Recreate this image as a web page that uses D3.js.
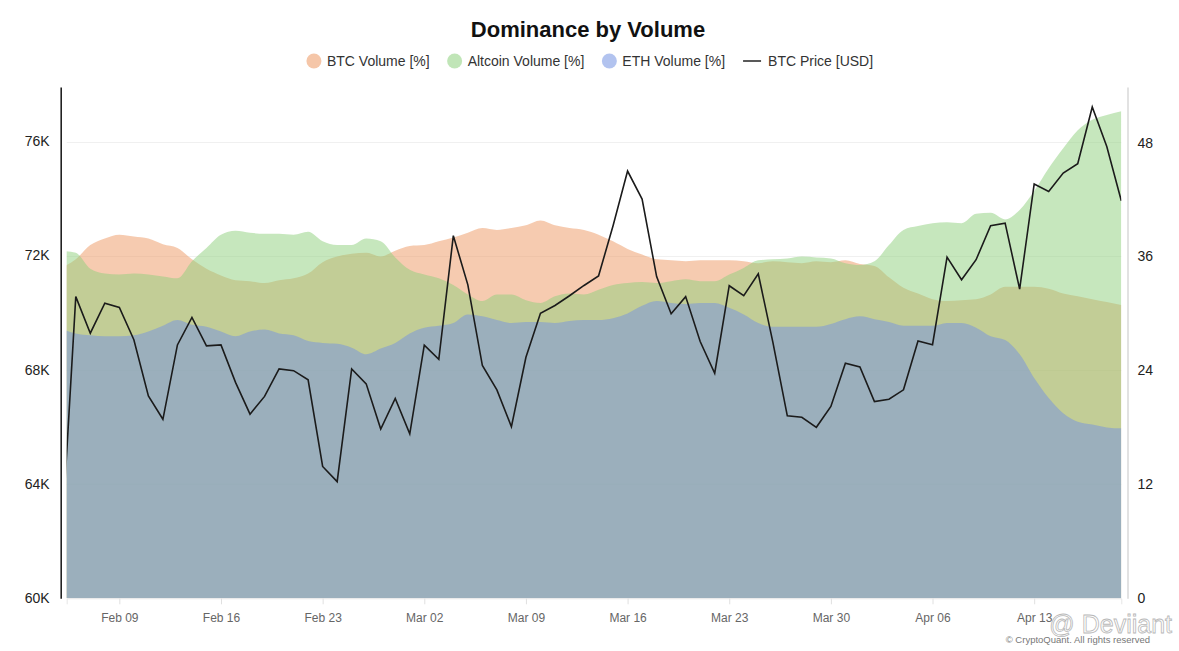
<!DOCTYPE html>
<html>
<head>
<meta charset="utf-8">
<script src="https://cdn.jsdelivr.net/npm/d3@7"></script>
<style>
  html, body { margin: 0; padding: 0; background: #fff; }
  svg { display: block; font-family: "Liberation Sans", Arial, sans-serif; }
</style>
</head>
<body>
<svg id="chart" width="1179" height="651"></svg>
<script>
// daily points, Feb 05 .. Apr 19
var startDay = "2025-02-05",
    endDay = "2025-04-20";

var btcPrice = [
    61800, 70550, 69270, 70320, 70170, 69040, 67080, 66260, 68860, 69820,
    68830, 68860, 67550, 66440, 67060, 68020, 67960, 67640, 64610, 64080,
    68020, 67500, 65920, 66990, 65750, 68850, 68360, 72680, 70960, 68140,
    67290, 66000, 68430, 69970, 70240, 70580, 70940, 71270, 73030, 74940,
    73960, 71250, 69950, 70550, 68980, 67870, 70930, 70580, 71350, 68970,
    66380, 66330, 65980, 66710, 68220, 68090, 66880, 66960, 67290, 69000,
    68870, 71930, 71140, 71840, 73030, 73120, 70810, 74490, 74230, 74870,
    75200, 77180, 75800, 73900
];

var btcVolume = [
    34.8, 35.7, 37.2, 37.9, 38.3, 38.1, 37.9, 37.3, 36.9, 35.7,
    34.7, 34.0, 33.5, 33.4, 33.2, 33.5, 33.7, 34.2, 35.4, 36.0,
    36.3, 36.4, 36.0, 36.6, 37.1, 37.2, 37.6, 38.0, 38.5, 39.0,
    38.8, 39.0, 39.3, 39.8, 39.3, 39.0, 38.8, 38.3, 37.6, 36.8,
    36.2, 35.7, 35.6, 35.5, 35.6, 35.6, 35.6, 35.5, 35.3, 35.5,
    35.4, 35.3, 35.5, 35.4, 35.6, 35.2, 35.0, 33.8, 32.7, 32.1,
    31.5, 31.3, 31.4, 31.5, 32.0, 32.8, 32.8, 32.8, 32.6, 32.1,
    31.8, 31.5, 31.2, 30.9
];

var altVolume = [
    36.6, 36.4, 34.7, 34.2, 34.1, 34.2, 34.1, 33.9, 33.7, 35.5,
    36.9, 38.3, 38.7, 38.5, 38.4, 38.4, 38.3, 38.6, 37.6, 37.2,
    37.2, 37.9, 37.6, 35.9, 34.6, 34.1, 33.7, 33.0, 32.0, 31.3,
    32.0, 32.0, 31.4, 31.1, 31.8, 32.1, 32.0, 32.5, 33.0, 33.2,
    33.3, 33.2, 33.4, 33.6, 33.4, 33.4, 34.1, 34.8, 35.6, 35.7,
    35.8, 36.0, 35.9, 35.8, 35.3, 35.1, 35.5, 37.2, 38.8, 39.2,
    39.5, 39.6, 39.5, 40.5, 40.6, 39.9, 40.9, 42.9, 45.3, 47.4,
    49.3, 50.4, 50.9, 51.3
];

var ethVolume = [
    28.4, 27.9, 27.7, 27.6, 27.6, 27.7, 28.1, 28.7, 29.3, 28.8,
    28.6, 28.1, 27.6, 28.1, 28.3, 27.9, 27.7, 27.1, 26.9, 26.8,
    26.4, 25.7, 26.3, 26.9, 27.9, 28.5, 28.7, 29.0, 29.9, 29.7,
    29.3, 29.0, 29.1, 29.1, 29.0, 29.2, 29.3, 29.3, 29.5, 30.0,
    30.8, 31.3, 31.1, 31.0, 31.1, 31.1, 30.6, 29.9, 29.0, 28.6,
    28.6, 28.6, 28.6, 28.9, 29.4, 29.7, 29.4, 29.1, 28.7, 28.7,
    28.7, 29.0, 29.0, 28.5, 27.6, 27.2, 25.7, 23.2, 21.1, 19.5,
    18.6, 18.3, 18.0, 17.9
];

var priceTicks = [60000, 64000, 68000, 72000, 76000],
    volumeTicks = [0, 12, 24, 36, 48];

var series = [
    {name: "BTC Volume [%]", values: btcVolume, color: "#ed9761"},
    {name: "Altcoin Volume [%]", values: altVolume, color: "#8dcf7b"},
    {name: "ETH Volume [%]", values: ethVolume, color: "#7391e1"}
];

var svg = d3.select("#chart"),
    plotLeft = 66.7, plotRight = 1121.3, plotTop = 87, plotBottom = 598.3;

var days = d3.utcDay.range(new Date(startDay), new Date(endDay));

var x = d3.scaleUtc()
    .domain([new Date(Date.UTC(2025, 1, 5, 9)), new Date(Date.UTC(2025, 3, 19))])
    .range([plotLeft, plotRight]);
var yPrice = d3.scaleLinear().domain([60000, 77880]).range([plotBottom, plotTop]);
var yVol = d3.scaleLinear().domain([0, 53.85]).range([plotBottom, plotTop]);

svg.append("defs").append("clipPath").attr("id", "plot")
    .append("rect")
    .attr("x", plotLeft).attr("y", plotTop - 5)
    .attr("width", plotRight - plotLeft).attr("height", plotBottom - plotTop + 5);

/*
 * faint grid lines under the areas
 */
svg.append("g").selectAll("line")
    .data(volumeTicks.slice(1))
    .join("line")
    .attr("x1", plotLeft).attr("x2", plotRight)
    .attr("y1", function(d) { return yVol(d); })
    .attr("y2", function(d) { return yVol(d); })
    .attr("stroke", "#f0f0f0");

var plot = svg.append("g").attr("clip-path", "url(#plot)");

var area = d3.area()
    .curve(d3.curveMonotoneX)
    .x(function(d, i) { return x(days[i]); })
    .y0(plotBottom)
    .y1(function(d) { return yVol(d); });

plot.selectAll("path.area")
    .data(series)
    .join("path")
    .attr("class", "area")
    .attr("d", function(s) { return area(s.values); })
    .attr("fill", function(s) { return s.color; })
    .attr("fill-opacity", 0.5);

// watermark
plot.append("text")
    .attr("x", 578).attr("y", 356)
    .attr("text-anchor", "middle")
    .attr("font-size", 46)
    .attr("font-weight", "bold")
    .attr("fill", "#000")
    .attr("fill-opacity", 0.018)
    .text("CryptoQuant");

var line = d3.line()
    .x(function(d, i) { return x(days[i]); })
    .y(function(d) { return yPrice(d); });

plot.append("path")
    .attr("d", line(btcPrice))
    .attr("fill", "none")
    .attr("stroke", "#1b1b1b")
    .attr("stroke-width", 1.6)
    .attr("stroke-linejoin", "miter");

/*
 * axes
 */
var axisLeft = svg.append("g")
    .attr("transform", "translate(60.7,0)")
    .call(d3.axisLeft(yPrice).tickValues(priceTicks).tickSize(0).tickPadding(11)
        .tickFormat(function(d) { return d / 1000 + "K"; }));
axisLeft.select(".domain").attr("stroke", "#222").attr("stroke-width", 1.6);
axisLeft.selectAll("text").attr("font-size", 14).attr("fill", "#222");

var axisRight = svg.append("g")
    .attr("transform", "translate(1127.5,0)")
    .call(d3.axisRight(yVol).tickValues(volumeTicks).tickSize(0).tickPadding(10));
axisRight.select(".domain").attr("stroke", "#e2e2e2").attr("stroke-width", 2);
axisRight.selectAll("text").attr("font-size", 14).attr("fill", "#222");

var axisBottom = svg.append("g")
    .attr("transform", "translate(0," + plotBottom + ")")
    .call(d3.axisBottom(x).ticks(d3.utcSunday.every(1)).tickSize(6).tickPadding(9)
        .tickFormat(d3.utcFormat("%b %d")));
axisBottom.select(".domain").attr("stroke", "#e6e6e6");
axisBottom.selectAll(".tick line").attr("stroke", "#e0e0e0");
axisBottom.selectAll("text").attr("font-size", 12).attr("fill", "#666");

/*
 * title + legend
 */
svg.append("text")
    .attr("x", 588).attr("y", 37)
    .attr("text-anchor", "middle")
    .attr("font-size", 22)
    .attr("font-weight", "bold")
    .attr("fill", "#111")
    .text("Dominance by Volume");

var legend = svg.append("g"),
    lx = 0, ly = 61, item, w;

series.forEach(function(s) {
    item = legend.append("g").attr("transform", "translate(" + lx + ",0)");
    item.append("circle")
        .attr("cx", 7).attr("cy", ly).attr("r", 7.5)
        .attr("fill", s.color).attr("fill-opacity", 0.55);
    w = item.append("text")
        .attr("x", 20).attr("y", ly + 5)
        .attr("font-size", 14).attr("fill", "#333")
        .text(s.name).node().getComputedTextLength();
    lx += 20 + w + 18;
});

item = legend.append("g").attr("transform", "translate(" + lx + ",0)");
item.append("line")
    .attr("x1", 0).attr("x2", 18).attr("y1", ly).attr("y2", ly)
    .attr("stroke", "#222").attr("stroke-width", 1.5);
w = item.append("text")
    .attr("x", 25).attr("y", ly + 5)
    .attr("font-size", 14).attr("fill", "#333")
    .text("BTC Price [USD]").node().getComputedTextLength();
lx += 25 + w;

legend.attr("transform", "translate(" + (590 - lx / 2) + ",0)");

// credits
svg.append("text")
    .attr("x", 1150).attr("y", 643)
    .attr("text-anchor", "end")
    .attr("font-size", 9.5).attr("fill", "#777")
    .text("© CryptoQuant. All rights reserved");

svg.append("text")
    .attr("x", 1172).attr("y", 633)
    .attr("text-anchor", "end")
    .attr("font-size", 25)
    .attr("fill", "#fff").attr("stroke", "#b8b8b8").attr("stroke-width", 0.8)
    .text("@ Deviiant");
</script>
</body>
</html>
